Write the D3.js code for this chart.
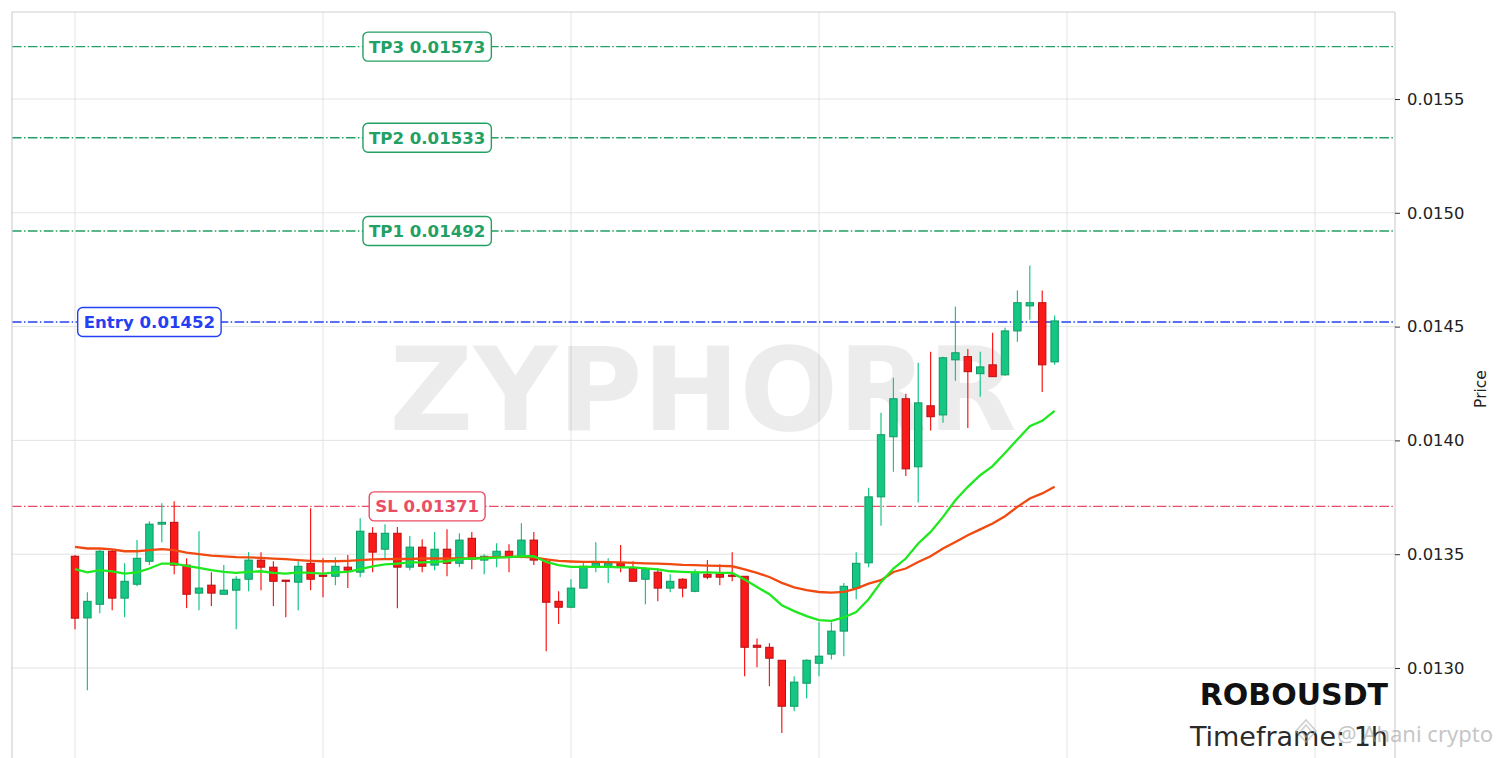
<!DOCTYPE html>
<html><head><meta charset="utf-8">
<script src="https://cdn.jsdelivr.net/npm/d3@7/dist/d3.min.js"></script>
<style>html,body{margin:0;padding:0;background:#fff;overflow:hidden}svg{display:block}</style>
</head><body>
<svg id="chart" width="1501" height="758"></svg>
<script>
// ---- data ----
const candleIndex = [0,1,2,3,4,5,6,7,8,9,10,11,12,13,14,15,16,17,18,19,20,21,22,23,24,25,26,27,28,29,30,31,32,33,34,35,36,37,38,39,40,41,42,43,44,45,46,47,48,49,50,51,52,53,54,55,56,57,58,59,60,61,62,63,64,65,66,67,68,69,70,71,72,73,74,75,76,77,78,79];
const openP  = [0.013491,0.013220,0.013280,0.013513,0.013307,0.013368,0.013469,0.013632,0.013640,0.013452,0.013329,0.013364,0.013324,0.013342,0.013390,0.013474,0.013443,0.013386,0.013377,0.013460,0.013408,0.013403,0.013443,0.013421,0.013592,0.013522,0.013592,0.013443,0.013531,0.013452,0.013522,0.013460,0.013570,0.013474,0.013487,0.013513,0.013491,0.013562,0.013469,0.013293,0.013267,0.013351,0.013443,0.013447,0.013460,0.013438,0.013390,0.013421,0.013351,0.013390,0.013337,0.013412,0.013412,0.013408,0.013403,0.013100,0.013091,0.013034,0.012832,0.012933,0.013021,0.013061,0.013162,0.013351,0.013462,0.013752,0.014016,0.014183,0.013884,0.014152,0.014112,0.014354,0.014368,0.014293,0.014332,0.014288,0.014481,0.014591,0.014605,0.014345];
const highP  = [0.013496,0.013333,0.013518,0.013522,0.013460,0.013562,0.013645,0.013724,0.013733,0.013482,0.013601,0.013421,0.013452,0.013403,0.013509,0.013509,0.013469,0.013386,0.013469,0.013702,0.013482,0.013487,0.013496,0.013658,0.013619,0.013632,0.013619,0.013580,0.013566,0.013597,0.013610,0.013592,0.013597,0.013500,0.013548,0.013544,0.013636,0.013597,0.013482,0.013337,0.013390,0.013465,0.013553,0.013482,0.013540,0.013469,0.013443,0.013438,0.013412,0.013394,0.013434,0.013474,0.013456,0.013509,0.013403,0.013130,0.013109,0.013034,0.012964,0.013038,0.013201,0.013201,0.013373,0.013509,0.013792,0.014121,0.014275,0.014205,0.014341,0.014389,0.014368,0.014588,0.014402,0.014389,0.014473,0.014495,0.014659,0.014768,0.014659,0.014549];
const lowP   = [0.013170,0.012902,0.013241,0.013254,0.013223,0.013359,0.013452,0.013553,0.013412,0.013263,0.013254,0.013272,0.013324,0.013170,0.013337,0.013342,0.013272,0.013223,0.013254,0.013342,0.013311,0.013364,0.013351,0.013399,0.013421,0.013478,0.013263,0.013430,0.013421,0.013430,0.013403,0.013443,0.013434,0.013412,0.013443,0.013421,0.013482,0.013452,0.013074,0.013193,0.013263,0.013351,0.013421,0.013373,0.013421,0.013381,0.013280,0.013293,0.013333,0.013311,0.013333,0.013390,0.013364,0.013381,0.012964,0.013003,0.012920,0.012714,0.012810,0.012867,0.012964,0.013038,0.013052,0.013302,0.013443,0.013625,0.013862,0.013844,0.013727,0.014043,0.014077,0.014262,0.014055,0.014192,0.014280,0.014284,0.014433,0.014530,0.014213,0.014332];
const closeP = [0.013219,0.013293,0.013513,0.013307,0.013381,0.013482,0.013632,0.013640,0.013452,0.013324,0.013351,0.013329,0.013342,0.013390,0.013474,0.013443,0.013381,0.013381,0.013447,0.013390,0.013403,0.013447,0.013430,0.013601,0.013509,0.013592,0.013443,0.013531,0.013447,0.013522,0.013460,0.013562,0.013478,0.013491,0.013513,0.013491,0.013562,0.013474,0.013289,0.013267,0.013351,0.013447,0.013460,0.013460,0.013447,0.013381,0.013434,0.013351,0.013381,0.013351,0.013421,0.013399,0.013399,0.013403,0.013091,0.013091,0.013043,0.012832,0.012938,0.013034,0.013052,0.013162,0.013359,0.013460,0.013752,0.014025,0.014183,0.013875,0.014165,0.014104,0.014363,0.014385,0.014302,0.014323,0.014280,0.014481,0.014605,0.014605,0.014332,0.014525];
const maFast = [0.013434,0.013420,0.013430,0.013425,0.013415,0.013420,0.013437,0.013459,0.013459,0.013449,0.013440,0.013430,0.013422,0.013418,0.013422,0.013425,0.013418,0.013415,0.013420,0.013418,0.013415,0.013420,0.013422,0.013434,0.013447,0.013455,0.013459,0.013464,0.013464,0.013466,0.013469,0.013478,0.013481,0.013482,0.013485,0.013487,0.013491,0.013491,0.013466,0.013452,0.013444,0.013444,0.013444,0.013444,0.013442,0.013442,0.013438,0.013433,0.013425,0.013422,0.013420,0.013420,0.013418,0.013418,0.013389,0.013356,0.013324,0.013276,0.013250,0.013228,0.013210,0.013207,0.013222,0.013246,0.013302,0.013377,0.013437,0.013481,0.013547,0.013598,0.013664,0.013737,0.013796,0.013847,0.013887,0.013945,0.014004,0.014062,0.014086,0.014130];
const maSlow = [0.013532,0.013525,0.013525,0.013521,0.013513,0.013513,0.013518,0.013522,0.013518,0.013507,0.013500,0.013494,0.013490,0.013487,0.013486,0.013484,0.013481,0.013478,0.013474,0.013471,0.013469,0.013469,0.013471,0.013474,0.013477,0.013478,0.013479,0.013479,0.013481,0.013481,0.013481,0.013482,0.013482,0.013485,0.013487,0.013488,0.013488,0.013486,0.013477,0.013471,0.013468,0.013466,0.013466,0.013465,0.013464,0.013462,0.013460,0.013459,0.013456,0.013453,0.013452,0.013450,0.013449,0.013447,0.013433,0.013418,0.013400,0.013374,0.013354,0.013342,0.013334,0.013331,0.013334,0.013349,0.013371,0.013386,0.013422,0.013437,0.013466,0.013491,0.013525,0.013554,0.013583,0.013609,0.013635,0.013667,0.013708,0.013745,0.013767,0.013796];
const levelNames  = ["TP3","TP2","TP1","Entry","SL"];
const levelValues = [0.01573,0.01533,0.01492,0.01452,0.01371];
const levelLabelAt = [28.4,28.4,28.4,6.0,28.4];
const levelColors = ["#23a064","#23a064","#23a064","#2540f2","#ec4d66"];
const yTicks = [0.0130,0.0135,0.0140,0.0145,0.0150,0.0155];
const xGridAt = [0,20,40,60,80,100];
const symbol = "ROBOUSDT";
const timeframe = "Timeframe: 1h";
const watermark = "ZYPHORR";

// ---- layout ----
const L = 12, R = 1395, T = 12, B = 758;
const svg = d3.select("#chart");
const x = d3.scaleLinear().domain([-5.08, 106.45]).range([L, R]);
const y = d3.scaleLinear().domain([0.0130, 0.0155]).range([668, 99]);
const FONT = "'DejaVu Sans', sans-serif";

svg.append("defs").append("clipPath").attr("id","plot")
  .append("rect").attr("x",L).attr("y",T).attr("width",R-L).attr("height",B-T+20);

const g = svg.append("g").attr("clip-path","url(#plot)");

// grid
g.selectAll("line.hg").data(yTicks).join("line")
  .attr("x1",L).attr("x2",R).attr("y1",d=>y(d)).attr("y2",d=>y(d))
  .attr("stroke","#e3e3e3").attr("stroke-width",1);
g.selectAll("line.vg").data(xGridAt).join("line")
  .attr("y1",T).attr("y2",B+20).attr("x1",d=>x(d)).attr("x2",d=>x(d))
  .attr("stroke","#e3e3e3").attr("stroke-width",1);

// watermark
g.append("text").attr("x",703).attr("y",430).attr("text-anchor","middle")
  .attr("font-family",FONT).attr("font-weight","bold").attr("font-size",116)
  .attr("fill","#000").attr("fill-opacity",0.075).text(watermark);

// level lines
g.selectAll("line.lvl").data(levelValues).join("line")
  .attr("x1",L).attr("x2",R).attr("y1",d=>y(d)).attr("y2",d=>y(d))
  .attr("stroke",(d,i)=>levelColors[i]).attr("stroke-width",1.4)
  .attr("stroke-dasharray","9.6,2.4,1.5,2.4");

// candles
const bw = 7.4;
const candles = g.append("g");
candleIndex.forEach((ci,i)=>{
  const up = closeP[i] >= openP[i];
  const fill = up ? "#16c784" : "#fa1a1a";
  const edge = up ? "#0f9a63" : "#b80f12";
  candles.append("line").attr("x1",x(ci)).attr("x2",x(ci))
    .attr("y1",y(highP[i])).attr("y2",y(lowP[i]))
    .attr("stroke",fill).attr("stroke-width",1.2);
  const top = y(Math.max(openP[i],closeP[i]));
  const h = Math.max(1.2, Math.abs(y(openP[i])-y(closeP[i])));
  candles.append("rect").attr("x",x(ci)-bw/2).attr("y",top).attr("width",bw).attr("height",h)
    .attr("fill",fill).attr("stroke",edge).attr("stroke-width",1);
});

// moving averages
const line = arr => d3.line().x((d,i)=>x(candleIndex[i])).y(d=>y(d)).curve(d3.curveLinear)(arr);
g.append("path").attr("d",line(maSlow)).attr("fill","none").attr("stroke","#f04a10").attr("stroke-width",2.3);
g.append("path").attr("d",line(maFast)).attr("fill","none").attr("stroke","#1fe81f").attr("stroke-width",2.3);

// level labels
levelNames.forEach((n,i)=>{
  const cx = x(levelLabelAt[i]), cy = y(levelValues[i]);
  const lg = svg.append("g");
  const t = lg.append("text").attr("x",cx).attr("y",cy).attr("dy","0.36em")
    .attr("text-anchor","middle").attr("font-family",FONT).attr("font-weight","bold")
    .attr("font-size",16.6).attr("fill",levelColors[i])
    .text(n + " " + levelValues[i].toFixed(5));
  const bb = t.node().getBBox();
  lg.insert("rect","text").attr("x",bb.x-6).attr("y",cy-14.5).attr("width",bb.width+12).attr("height",29)
    .attr("rx",5).attr("ry",5).attr("fill","#fff").attr("stroke",levelColors[i]).attr("stroke-width",1.4);
});

// spines
svg.append("line").attr("x1",L).attr("x2",L).attr("y1",T).attr("y2",B+5).attr("stroke","#d0d0d0").attr("stroke-width",1.2);
svg.append("line").attr("x1",L).attr("x2",R).attr("y1",T).attr("y2",T).attr("stroke","#d0d0d0").attr("stroke-width",1.2);
svg.append("line").attr("x1",R).attr("x2",R).attr("y1",T).attr("y2",B+5).attr("stroke","#d0d0d0").attr("stroke-width",1.2);

// y axis on right
const ax = svg.append("g").attr("transform",`translate(${R},0)`)
  .call(d3.axisRight(y).tickValues(yTicks).tickFormat(d3.format(".4f")).tickSize(5).tickPadding(7));
ax.select(".domain").remove();
ax.selectAll(".tick line").attr("stroke","#333").attr("stroke-width",1);
ax.selectAll(".tick text").attr("font-family",FONT).attr("font-size",16.4).attr("fill","#222");

svg.append("text").attr("transform","translate(1486,389) rotate(-90)").attr("text-anchor","middle")
  .attr("font-family",FONT).attr("font-size",15.5).attr("fill","#222").text("Price");

// symbol / timeframe
svg.append("text").attr("x",1388).attr("y",705).attr("text-anchor","end")
  .attr("font-family",FONT).attr("font-weight","bold").attr("font-size",30).attr("fill","#111").text(symbol);
svg.append("text").attr("x",1388).attr("y",746).attr("text-anchor","end")
  .attr("font-family",FONT).attr("font-size",27).attr("fill","#2a2a2a").text(timeframe);

// overlay watermark bottom-right
const wm = svg.append("g").attr("opacity",0.55);
wm.append("path").attr("d","M1306,720 L1316,731 L1306,742 L1296,731 Z M1306,725 L1311,731 L1306,737 L1301,731 Z")
  .attr("fill","none").attr("stroke","#aaa").attr("stroke-width",1.6);
wm.append("text").attr("x",1493).attr("y",742).attr("text-anchor","end")
  .attr("font-family","'Noto Sans', sans-serif").attr("font-size",22).attr("fill","#999").text("@ Ahani crypto");
</script>
</body></html>
